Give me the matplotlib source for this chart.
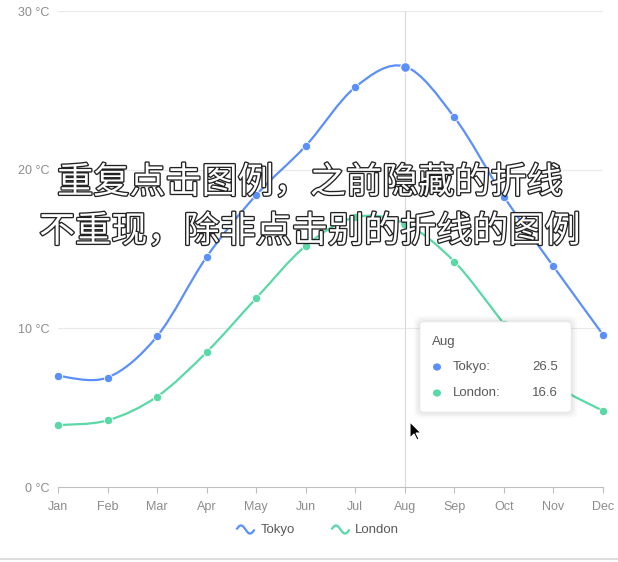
import numpy as np
import matplotlib
matplotlib.use('Agg')
import matplotlib.pyplot as plt
from matplotlib.path import Path
from matplotlib.patches import PathPatch, FancyBboxPatch, Circle
from matplotlib.lines import Line2D
import matplotlib.patheffects as pe

months = ['Jan', 'Feb', 'Mar', 'Apr', 'May', 'Jun',
          'Jul', 'Aug', 'Sep', 'Oct', 'Nov', 'Dec']
tokyo = [7.0, 6.9, 9.5, 14.5, 18.4, 21.5, 25.2, 26.5, 23.3, 18.3, 13.9, 9.6]
london = [3.9, 4.2, 5.7, 8.5, 11.9, 15.2, 17.0, 16.6, 14.2, 10.3, 6.6, 4.8]
y_ticks = [0, 10, 20, 30]
active = 7  # Aug, the hovered month

series = [('Tokyo', tokyo, '#5B8FF9'), ('London', london, '#5AD8A6')]
overlay = ['重复点击图例，之前隐藏的折线', '不重现，除非点击别的折线的图例']

W, H = 618, 562
plt.rcParams['font.family'] = ['Liberation Sans', 'DejaVu Sans']


def px(x, y):
    # pixel from top-left -> figure fraction
    return x / W, 1 - y / H


def smooth_path(xs, ys):
    pts = np.column_stack([xs, ys]).astype(float)
    n = len(pts)
    verts = [pts[0]]
    codes = [Path.MOVETO]
    for i in range(n - 1):
        p0 = pts[i - 1] if i > 0 else pts[i]
        p1 = pts[i]
        p2 = pts[i + 1]
        p3 = pts[i + 2] if i + 2 < n else pts[i + 1]
        verts += [p1 + (p2 - p0) / 6, p2 - (p3 - p1) / 6, p2]
        codes += [Path.CURVE4] * 3
    return Path(verts, codes)


fig = plt.figure(figsize=(W / 100, H / 100), dpi=100)
ax = fig.add_axes([58 / W, (H - 487) / H, (603 - 58) / W, (487 - 11) / H])
x = np.arange(len(months))

ax.set_xlim(0, 11)
ax.set_ylim(0, 30)
ax.set_yticks(y_ticks)
ax.set_yticklabels(['%d °C' % v for v in y_ticks])
ax.set_xticks(x)
ax.set_xticklabels(months)
for s in ['top', 'right', 'left']:
    ax.spines[s].set_visible(False)
ax.spines['bottom'].set_color('#bfbfbf')
ax.spines['bottom'].set_linewidth(0.8)
ax.spines['bottom'].set_clip_on(False)
ax.tick_params(axis='x', colors='#bfbfbf', labelcolor='#8c8c8c',
               length=4, width=0.8, pad=12.5, labelsize=9)
for lab in ax.get_xticklabels():
    lab.set_verticalalignment('baseline')
ax.tick_params(axis='y', length=0, pad=6, labelcolor='#8c8c8c', labelsize=9)
for v in y_ticks[1:]:
    ax.axhline(v, color='#e9e9e9', lw=0.8, zorder=0)
ax.axvline(active, color='#d9d9d9', lw=0.8, zorder=1)

for name, vals, col in series:
    ax.add_patch(PathPatch(smooth_path(x, vals), fill=False, edgecolor=col,
                           lw=1.6, zorder=2, clip_on=False))
    ax.plot(x, vals, 'o', color=col, ms=6, mec='white', mew=0.6,
            zorder=3, clip_on=False)
    ax.plot(active, vals[active], 'o', color=col, ms=7, mec='white', mew=0.8,
            zorder=4, clip_on=False)

# overlay caption
for i, line in enumerate(overlay):
    fig.text(*px(310, 183 + i * 49), line, ha='center', va='center',
             fontsize=26, color='white',
             family=['Noto Sans CJK SC', 'DejaVu Sans'],
             path_effects=[pe.withStroke(linewidth=1.9, foreground='#222222')],
             zorder=10)

# tooltip
for k, a in enumerate([0.025, 0.03, 0.035]):
    g = 6 - 2 * k
    fig.patches.append(FancyBboxPatch(
        px(420 - g, 412 + g), (151 + 2 * g) / W, (90 + 2 * g) / H,
        boxstyle='round,pad=0,rounding_size=0.012', transform=fig.transFigure,
        facecolor='black', edgecolor='none', alpha=a, zorder=11))
fig.patches.append(FancyBboxPatch(
    px(420, 412), 151 / W, 90 / H,
    boxstyle='round,pad=0,rounding_size=0.006', transform=fig.transFigure,
    facecolor='white', edgecolor='#eeeeee', lw=0.6, zorder=12))
fig.text(*px(432, 342), months[active], ha='left', va='center',
         fontsize=9.5, color='#595959', zorder=13)
for i, (name, vals, col) in enumerate(series):
    yy = 367 + i * 26
    fig.patches.append(Circle(px(437, yy), 4 / W, transform=fig.transFigure,
                              facecolor=col, edgecolor='none', zorder=13))
    fig.text(*px(453, yy), name + ':', ha='left', va='center',
             fontsize=9.5, color='#595959', zorder=13)
    fig.text(*px(558, yy), '%.1f' % vals[active], ha='right', va='center',
             fontsize=9.5, color='#595959', zorder=13)

# mouse cursor
cur = np.array([[0, 0], [0, 16], [4, 12], [7, 18], [9, 17], [6, 11], [11, 11], [0, 0]])
cx, cy = 410, 422
fig.patches.append(plt.Polygon([px(cx + a, cy + b) for a, b in cur],
                               closed=True, transform=fig.transFigure,
                               facecolor='black', edgecolor='white', lw=0.8,
                               zorder=14))

# legend with wave icons
t = np.linspace(-1, 1, 25)
wave = Path(np.column_stack([t, -0.45 * np.sin(np.pi * t)]))
handles = [Line2D([], [], ls='none', marker=wave, ms=13, mfc='none',
                  mec=col, mew=1.6, label=name) for name, _, col in series]
fig.legend(handles=handles, loc='center', bbox_to_anchor=px(318, 530),
           ncol=2, frameon=False, handlelength=1.2, handletextpad=0.6,
           columnspacing=2.8, fontsize=9.5, labelcolor='#595959')

# bottom border line
fig.add_artist(Line2D([0, 1], [1 - 559 / H] * 2, transform=fig.transFigure,
                      color='#dddddd', lw=1.5))

fig.savefig('out.png', dpi=100)
